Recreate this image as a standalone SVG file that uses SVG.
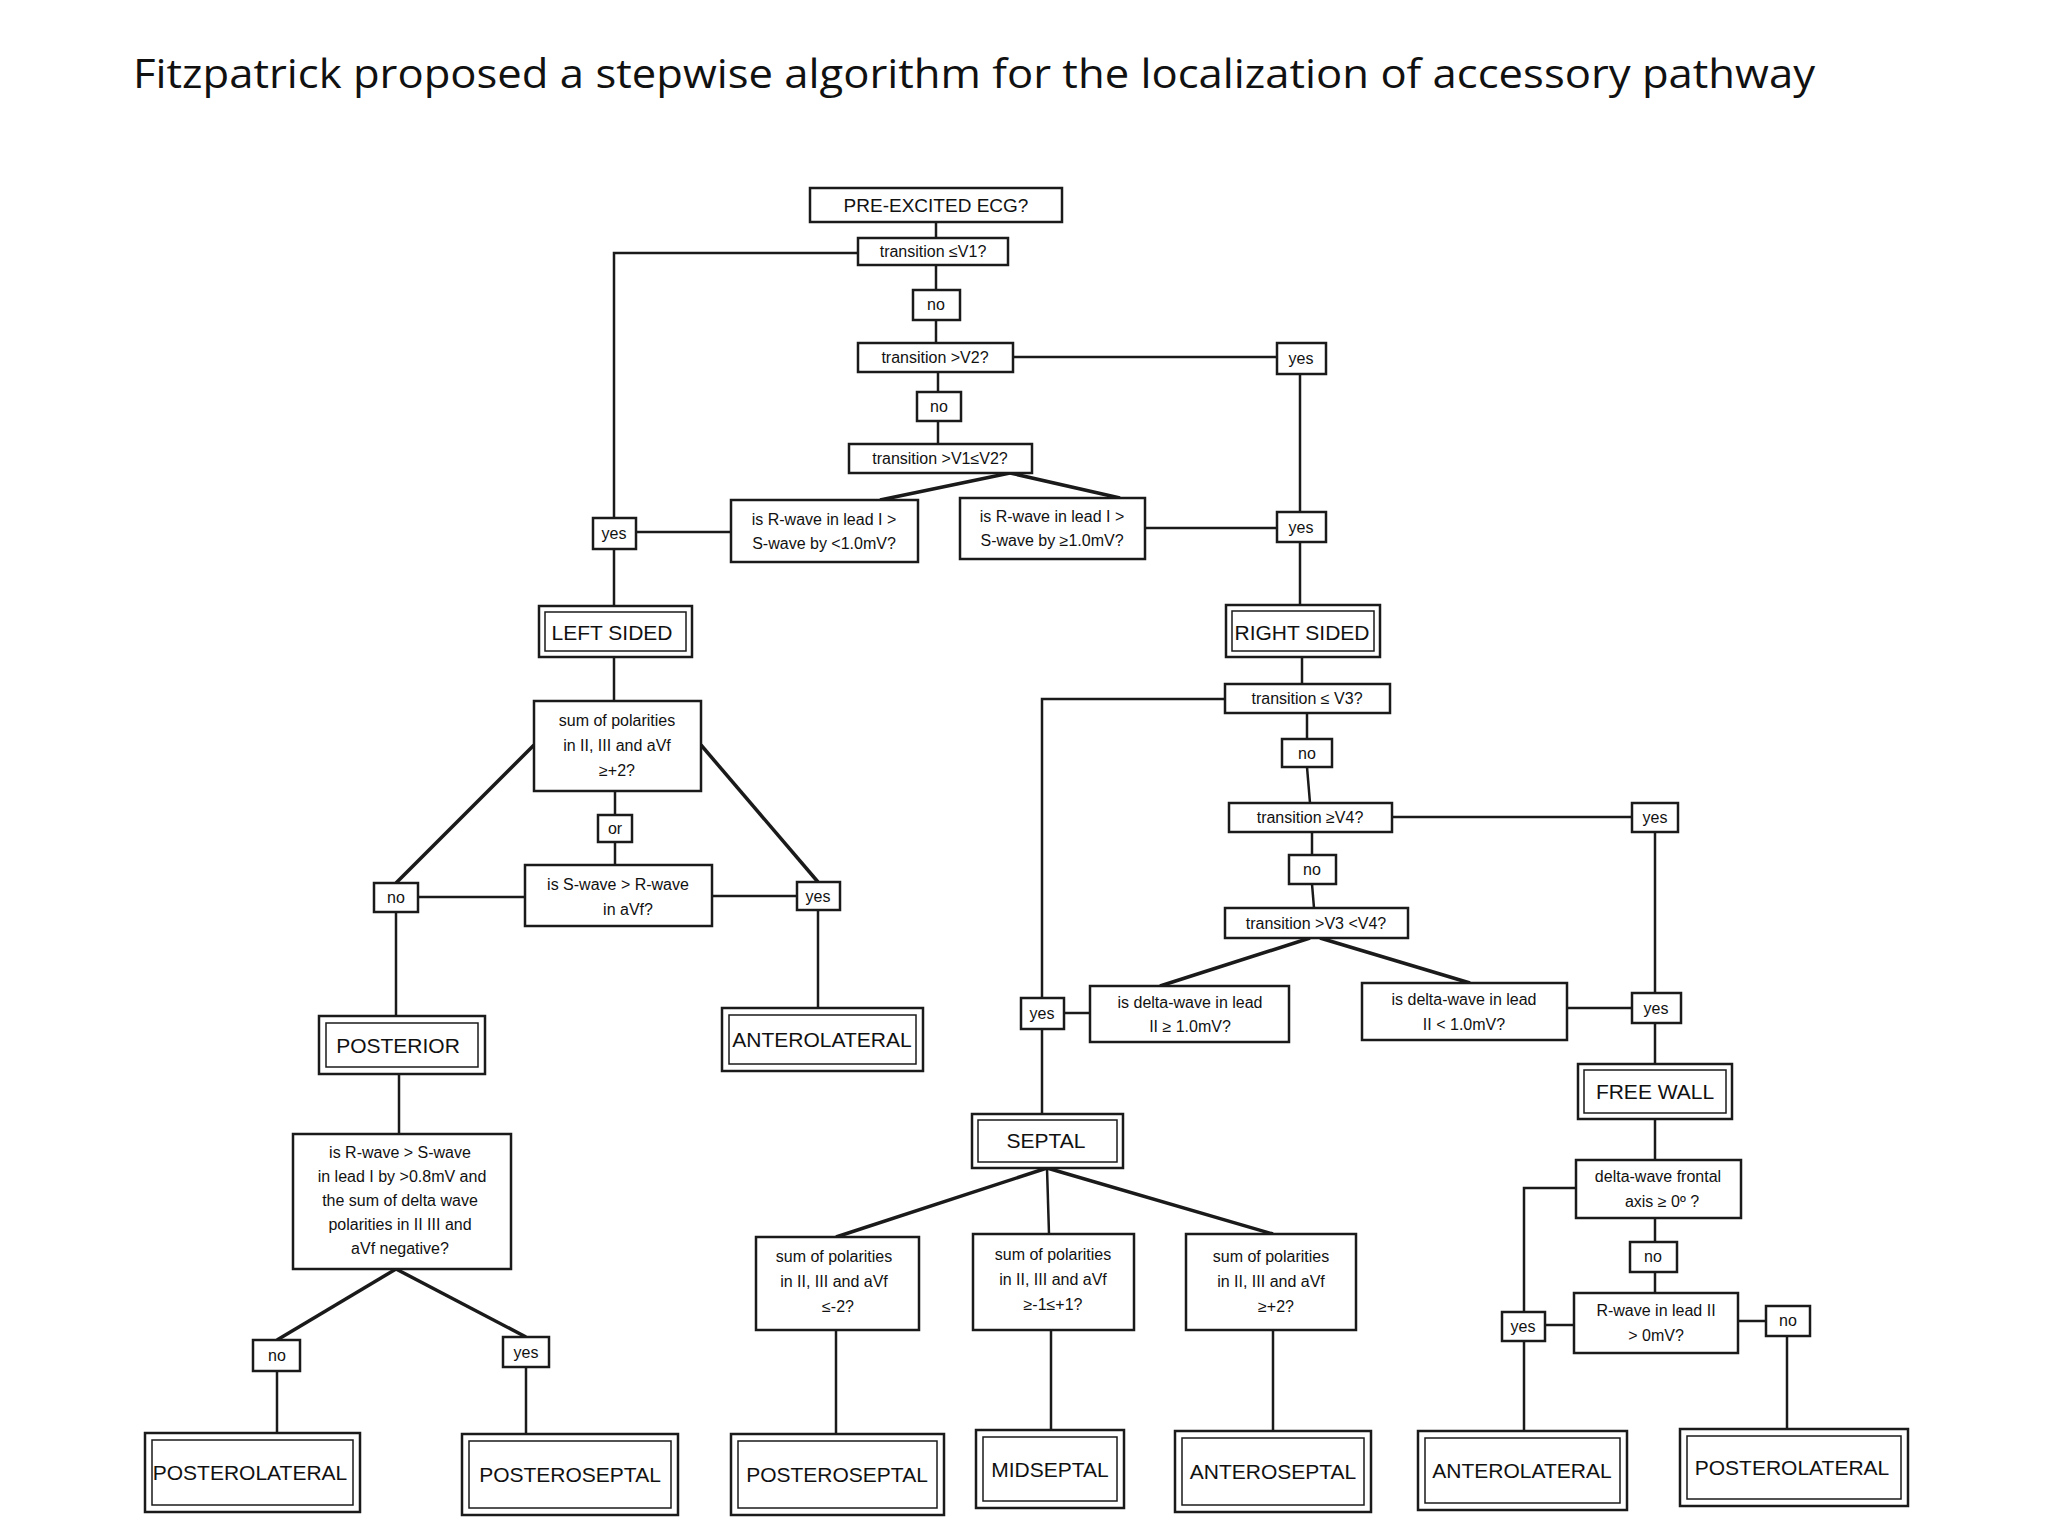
<svg xmlns="http://www.w3.org/2000/svg" width="2048" height="1536" viewBox="0 0 2048 1536">
<style>
.b{fill:#fff;stroke:#1a1a1a;stroke-width:2.5}
.d{fill:none;stroke:#1a1a1a;stroke-width:1.5}
.t{font-family:"Liberation Sans",Arial,sans-serif;font-size:16px;fill:#111;text-anchor:middle}
.L{font-family:"Liberation Sans",Arial,sans-serif;font-size:21px;fill:#111;text-anchor:middle}
#c line,#c polyline{stroke:#1a1a1a;stroke-width:2.5;fill:none}
#c .g{stroke-width:3.5}
</style>
<rect width="2048" height="1536" fill="#fff"/>
<text x="133" y="88" style="font-family:'Open Sans','Liberation Sans',sans-serif;font-size:40px;fill:#111" textLength="1682" lengthAdjust="spacingAndGlyphs">Fitzpatrick proposed a stepwise algorithm for the localization of accessory pathway</text>
<g id="c">
<line x1="936" y1="222" x2="936" y2="238"/>
<line x1="936" y1="265" x2="936" y2="343"/>
<line x1="938" y1="372" x2="938" y2="444"/>
<polyline points="858,253 614,253 614,606"/>
<line x1="1013" y1="357" x2="1277" y2="357"/>
<line x1="1300" y1="374" x2="1300" y2="605"/>
<line x1="1145" y1="528" x2="1277" y2="528"/>
<line x1="636" y1="532" x2="731" y2="532"/>
<line class="g" x1="1010" y1="473" x2="880" y2="500"/>
<line class="g" x1="1010" y1="473" x2="1120" y2="498"/>
<line x1="614" y1="657" x2="614" y2="701"/>
<line x1="615" y1="791" x2="615" y2="865"/>
<line class="g" x1="534" y1="745" x2="396" y2="883"/>
<line class="g" x1="701" y1="745" x2="818" y2="882"/>
<line x1="418" y1="897" x2="525" y2="897"/>
<line x1="712" y1="896" x2="797" y2="896"/>
<line x1="396" y1="912" x2="396" y2="1016"/>
<line x1="818" y1="910" x2="818" y2="1008"/>
<line x1="399" y1="1074" x2="399" y2="1134"/>
<line class="g" x1="396" y1="1269" x2="277" y2="1340"/>
<line class="g" x1="396" y1="1269" x2="526" y2="1337"/>
<line x1="277" y1="1371" x2="277" y2="1433"/>
<line x1="526" y1="1367" x2="526" y2="1434"/>
<line x1="1302" y1="657" x2="1302" y2="684"/>
<polyline points="1225,699 1042,699 1042,998"/>
<line x1="1042" y1="1029" x2="1042" y2="1114"/>
<line x1="1064" y1="1013" x2="1090" y2="1013"/>
<line x1="1307" y1="713" x2="1307" y2="739"/>
<line x1="1307" y1="767" x2="1310" y2="803"/>
<line x1="1392" y1="817" x2="1632" y2="817"/>
<line x1="1655" y1="832" x2="1655" y2="993"/>
<line x1="1312" y1="832" x2="1312" y2="855"/>
<line x1="1312" y1="884" x2="1314" y2="908"/>
<line class="g" x1="1310" y1="938" x2="1160" y2="986"/>
<line class="g" x1="1320" y1="938" x2="1470" y2="983"/>
<line x1="1567" y1="1008" x2="1632" y2="1008"/>
<line x1="1655" y1="1023" x2="1655" y2="1064"/>
<line x1="1655" y1="1119" x2="1655" y2="1160"/>
<line class="g" x1="1047" y1="1168" x2="836" y2="1237"/>
<line x1="1047" y1="1168" x2="1049" y2="1234"/>
<line class="g" x1="1047" y1="1168" x2="1273" y2="1234"/>
<line x1="836" y1="1330" x2="836" y2="1434"/>
<line x1="1051" y1="1330" x2="1051" y2="1430"/>
<line x1="1273" y1="1330" x2="1273" y2="1431"/>
<polyline points="1576,1188 1524,1188 1524,1312"/>
<line x1="1524" y1="1341" x2="1524" y2="1431"/>
<line x1="1545" y1="1325" x2="1574" y2="1325"/>
<line x1="1655" y1="1218" x2="1655" y2="1242"/>
<line x1="1655" y1="1272" x2="1655" y2="1293"/>
<line x1="1738" y1="1321" x2="1766" y2="1321"/>
<line x1="1787" y1="1336" x2="1787" y2="1429"/>
</g>
<g id="n1"><rect class="b" x="810" y="188" width="252" height="34"/><text class="t" x="936" y="212" style="font-size:19px">PRE-EXCITED ECG?</text></g>
<g id="n2"><rect class="b" x="858" y="238" width="150" height="27"/><text class="t" x="933" y="257">transition ≤V1?</text></g>
<g id="n3"><rect class="b" x="913" y="290" width="47" height="30"/><text class="t" x="936" y="310">no</text></g>
<g id="n4"><rect class="b" x="858" y="343" width="155" height="29"/><text class="t" x="935" y="363">transition &gt;V2?</text></g>
<g id="n5"><rect class="b" x="917" y="392" width="44" height="29"/><text class="t" x="939" y="412">no</text></g>
<g id="n6"><rect class="b" x="849" y="444" width="183" height="29"/><text class="t" x="940" y="464">transition &gt;V1≤V2?</text></g>
<g id="n7"><rect class="b" x="731" y="500" width="187" height="62"/><text class="t" x="824" y="525">is R-wave in lead I &gt;</text><text class="t" x="824" y="549">S-wave by &lt;1.0mV?</text></g>
<g id="n8"><rect class="b" x="960" y="498" width="185" height="61"/><text class="t" x="1052" y="522">is R-wave in lead I &gt;</text><text class="t" x="1052" y="546">S-wave by ≥1.0mV?</text></g>
<g id="n9"><rect class="b" x="593" y="518" width="43" height="31"/><text class="t" x="614" y="539">yes</text></g>
<g id="n10"><rect class="b" x="1277" y="343" width="49" height="31"/><text class="t" x="1301" y="364">yes</text></g>
<g id="n11"><rect class="b" x="1277" y="512" width="49" height="30"/><text class="t" x="1301" y="533">yes</text></g>
<g id="n12"><rect class="b" x="539" y="606" width="153" height="51"/><rect class="d" x="545" y="612" width="141" height="39"/><text class="L" x="612" y="640">LEFT SIDED</text></g>
<g id="n13"><rect class="b" x="1226" y="605" width="154" height="52"/><rect class="d" x="1232" y="611" width="142" height="40"/><text class="L" x="1302" y="640">RIGHT SIDED</text></g>
<g id="n14"><rect class="b" x="534" y="701" width="167" height="90"/><text class="t" x="617" y="726">sum of polarities</text><text class="t" x="617" y="751">in II, III and aVf</text><text class="t" x="617" y="776">≥+2?</text></g>
<g id="n15"><rect class="b" x="598" y="815" width="34" height="27"/><text class="t" x="615" y="834">or</text></g>
<g id="n16"><rect class="b" x="525" y="865" width="187" height="61"/><text class="t" x="618" y="890">is S-wave &gt; R-wave</text><text class="t" x="628" y="915">in aVf?</text></g>
<g id="n17"><rect class="b" x="374" y="883" width="44" height="29"/><text class="t" x="396" y="903">no</text></g>
<g id="n18"><rect class="b" x="797" y="882" width="43" height="28"/><text class="t" x="818" y="902">yes</text></g>
<g id="n19"><rect class="b" x="319" y="1016" width="166" height="58"/><rect class="d" x="326" y="1023" width="152" height="44"/><text class="L" x="398" y="1053">POSTERIOR</text></g>
<g id="n20"><rect class="b" x="722" y="1008" width="201" height="63"/><rect class="d" x="729" y="1015" width="187" height="49"/><text class="L" x="822" y="1047">ANTEROLATERAL</text></g>
<g id="n21"><rect class="b" x="293" y="1134" width="218" height="135"/><text class="t" x="400" y="1158">is R-wave &gt; S-wave</text><text class="t" x="402" y="1182">in lead I by &gt;0.8mV and</text><text class="t" x="400" y="1206">the sum of delta wave</text><text class="t" x="400" y="1230">polarities in II III and</text><text class="t" x="400" y="1254">aVf negative?</text></g>
<g id="n22"><rect class="b" x="253" y="1340" width="47" height="31"/><text class="t" x="277" y="1361">no</text></g>
<g id="n23"><rect class="b" x="503" y="1337" width="46" height="30"/><text class="t" x="526" y="1358">yes</text></g>
<g id="n24"><rect class="b" x="145" y="1433" width="215" height="79"/><rect class="d" x="152" y="1440" width="201" height="65"/><text class="L" x="250" y="1480">POSTEROLATERAL</text></g>
<g id="n25"><rect class="b" x="462" y="1434" width="216" height="81"/><rect class="d" x="469" y="1441" width="202" height="67"/><text class="L" x="570" y="1482">POSTEROSEPTAL</text></g>
<g id="n26"><rect class="b" x="1225" y="684" width="165" height="29"/><text class="t" x="1307" y="704">transition ≤ V3?</text></g>
<g id="n27"><rect class="b" x="1282" y="739" width="50" height="28"/><text class="t" x="1307" y="759">no</text></g>
<g id="n28"><rect class="b" x="1229" y="803" width="163" height="29"/><text class="t" x="1310" y="823">transition ≥V4?</text></g>
<g id="n29"><rect class="b" x="1632" y="803" width="46" height="29"/><text class="t" x="1655" y="823">yes</text></g>
<g id="n30"><rect class="b" x="1289" y="855" width="47" height="29"/><text class="t" x="1312" y="875">no</text></g>
<g id="n31"><rect class="b" x="1225" y="908" width="183" height="30"/><text class="t" x="1316" y="929">transition &gt;V3 &lt;V4?</text></g>
<g id="n32"><rect class="b" x="1090" y="986" width="199" height="56"/><text class="t" x="1190" y="1008">is delta-wave in lead</text><text class="t" x="1190" y="1032">II ≥ 1.0mV?</text></g>
<g id="n33"><rect class="b" x="1362" y="983" width="205" height="57"/><text class="t" x="1464" y="1005">is delta-wave in lead</text><text class="t" x="1464" y="1030">II &lt; 1.0mV?</text></g>
<g id="n34"><rect class="b" x="1021" y="998" width="43" height="31"/><text class="t" x="1042" y="1019">yes</text></g>
<g id="n35"><rect class="b" x="1632" y="993" width="49" height="30"/><text class="t" x="1656" y="1014">yes</text></g>
<g id="n36"><rect class="b" x="1578" y="1064" width="154" height="55"/><rect class="d" x="1584" y="1070" width="142" height="43"/><text class="L" x="1655" y="1099">FREE WALL</text></g>
<g id="n37"><rect class="b" x="972" y="1114" width="151" height="54"/><rect class="d" x="978" y="1120" width="139" height="42"/><text class="L" x="1046" y="1148">SEPTAL</text></g>
<g id="n38"><rect class="b" x="756" y="1237" width="163" height="93"/><text class="t" x="834" y="1262">sum of polarities</text><text class="t" x="834" y="1287">in II, III and aVf</text><text class="t" x="838" y="1312">≤-2?</text></g>
<g id="n39"><rect class="b" x="973" y="1234" width="161" height="96"/><text class="t" x="1053" y="1260">sum of polarities</text><text class="t" x="1053" y="1285">in II, III and aVf</text><text class="t" x="1053" y="1310">≥-1≤+1?</text></g>
<g id="n40"><rect class="b" x="1186" y="1234" width="170" height="96"/><text class="t" x="1271" y="1262">sum of polarities</text><text class="t" x="1271" y="1287">in II, III and aVf</text><text class="t" x="1276" y="1312">≥+2?</text></g>
<g id="n41"><rect class="b" x="731" y="1434" width="213" height="81"/><rect class="d" x="738" y="1441" width="199" height="67"/><text class="L" x="837" y="1482">POSTEROSEPTAL</text></g>
<g id="n42"><rect class="b" x="976" y="1430" width="148" height="78"/><rect class="d" x="983" y="1437" width="134" height="64"/><text class="L" x="1050" y="1477">MIDSEPTAL</text></g>
<g id="n43"><rect class="b" x="1175" y="1431" width="196" height="81"/><rect class="d" x="1182" y="1438" width="182" height="67"/><text class="L" x="1273" y="1479">ANTEROSEPTAL</text></g>
<g id="n44"><rect class="b" x="1418" y="1431" width="209" height="79"/><rect class="d" x="1425" y="1438" width="195" height="65"/><text class="L" x="1522" y="1478">ANTEROLATERAL</text></g>
<g id="n45"><rect class="b" x="1680" y="1429" width="228" height="77"/><rect class="d" x="1687" y="1436" width="214" height="63"/><text class="L" x="1792" y="1475">POSTEROLATERAL</text></g>
<g id="n46"><rect class="b" x="1576" y="1160" width="165" height="58"/><text class="t" x="1658" y="1182">delta-wave frontal</text><text class="t" x="1662" y="1207">axis ≥ 0º ?</text></g>
<g id="n47"><rect class="b" x="1630" y="1242" width="47" height="30"/><text class="t" x="1653" y="1262">no</text></g>
<g id="n48"><rect class="b" x="1574" y="1293" width="164" height="60"/><text class="t" x="1656" y="1316">R-wave in lead II</text><text class="t" x="1656" y="1341">&gt; 0mV?</text></g>
<g id="n49"><rect class="b" x="1502" y="1312" width="43" height="29"/><text class="t" x="1523" y="1332">yes</text></g>
<g id="n50"><rect class="b" x="1766" y="1306" width="44" height="30"/><text class="t" x="1788" y="1326">no</text></g>
</svg>
